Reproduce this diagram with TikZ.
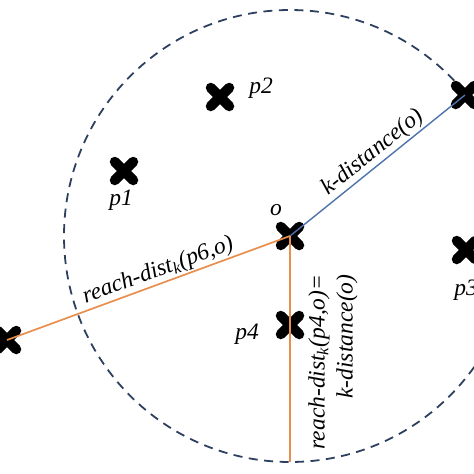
\documentclass[tikz,border=0pt]{standalone}
\usepackage{fontspec}
\setmainfont{Liberation Serif}
\usetikzlibrary{shapes.misc,positioning}

\definecolor{ringblue}{RGB}{45,64,96}
\definecolor{kblue}{RGB}{78,114,172}
\definecolor{reachorange}{RGB}{232,142,78}

\begin{document}
\begin{tikzpicture}[x=1pt,y=-1pt,
 pt/.style={cross out,draw=black,line width=10pt,line cap=round,minimum size=8.5pt,inner sep=0pt},
 lab/.style={font=\fontsize{23.5}{26}\selectfont\itshape,inner sep=2pt},
 ring/.style={draw=ringblue,line width=1.8pt,dash pattern=on 9pt off 6.5pt},
 kline/.style={draw=kblue,line width=1.4pt},
 rline/.style={draw=reachorange,line width=1.7pt}]
\clip (0,0) rectangle (474,474);
\useasboundingbox (0,0) rectangle (474,474);
% neighbourhood of o
\draw[ring] (290,236) circle[radius=226];
% points
\node[pt] (o) at (290,236) {};
\node[pt] (p1) at (124,171) {};
\node[pt] (p2) at (220,97) {};
\node[pt] (p3) at (466,250) {};
\node[pt] (p4) at (290,325) {};
\node[pt] (p6) at (7,340) {};
\node[pt] (q) at (465,95) {};
\coordinate (bot) at (290,462);
% point labels
\node[lab] (lo) at (276,210) {o};
\node[lab] (lp1) at (121,200) {p1};
\node[lab] (lp2) at (261,88) {p2};
\node[lab] (lp3) at (466,290) {p3};
\node[lab] (lp4) at (247,334) {p4};
% distances
\draw[kline] (o.center) -- node[lab,pos=0.52,above,sloped,inner sep=1.5pt] {k-distance(o)} (q.center);
\draw[rline] (o.center) -- node[lab,pos=0.45,above,sloped,inner sep=1.5pt] {reach-dist\textsubscript{k}(p6,o)} (p6.center);
\draw[rline] (o.center) -- (p4.center) -- (bot);
\node[lab,rotate=90,align=right,font=\fontsize{23.5}{28}\selectfont\itshape] (rd4) at (333,362)
 {reach-dist\textsubscript{k}(p4,o)=\\k-distance(o)};
\end{tikzpicture}
\end{document}
